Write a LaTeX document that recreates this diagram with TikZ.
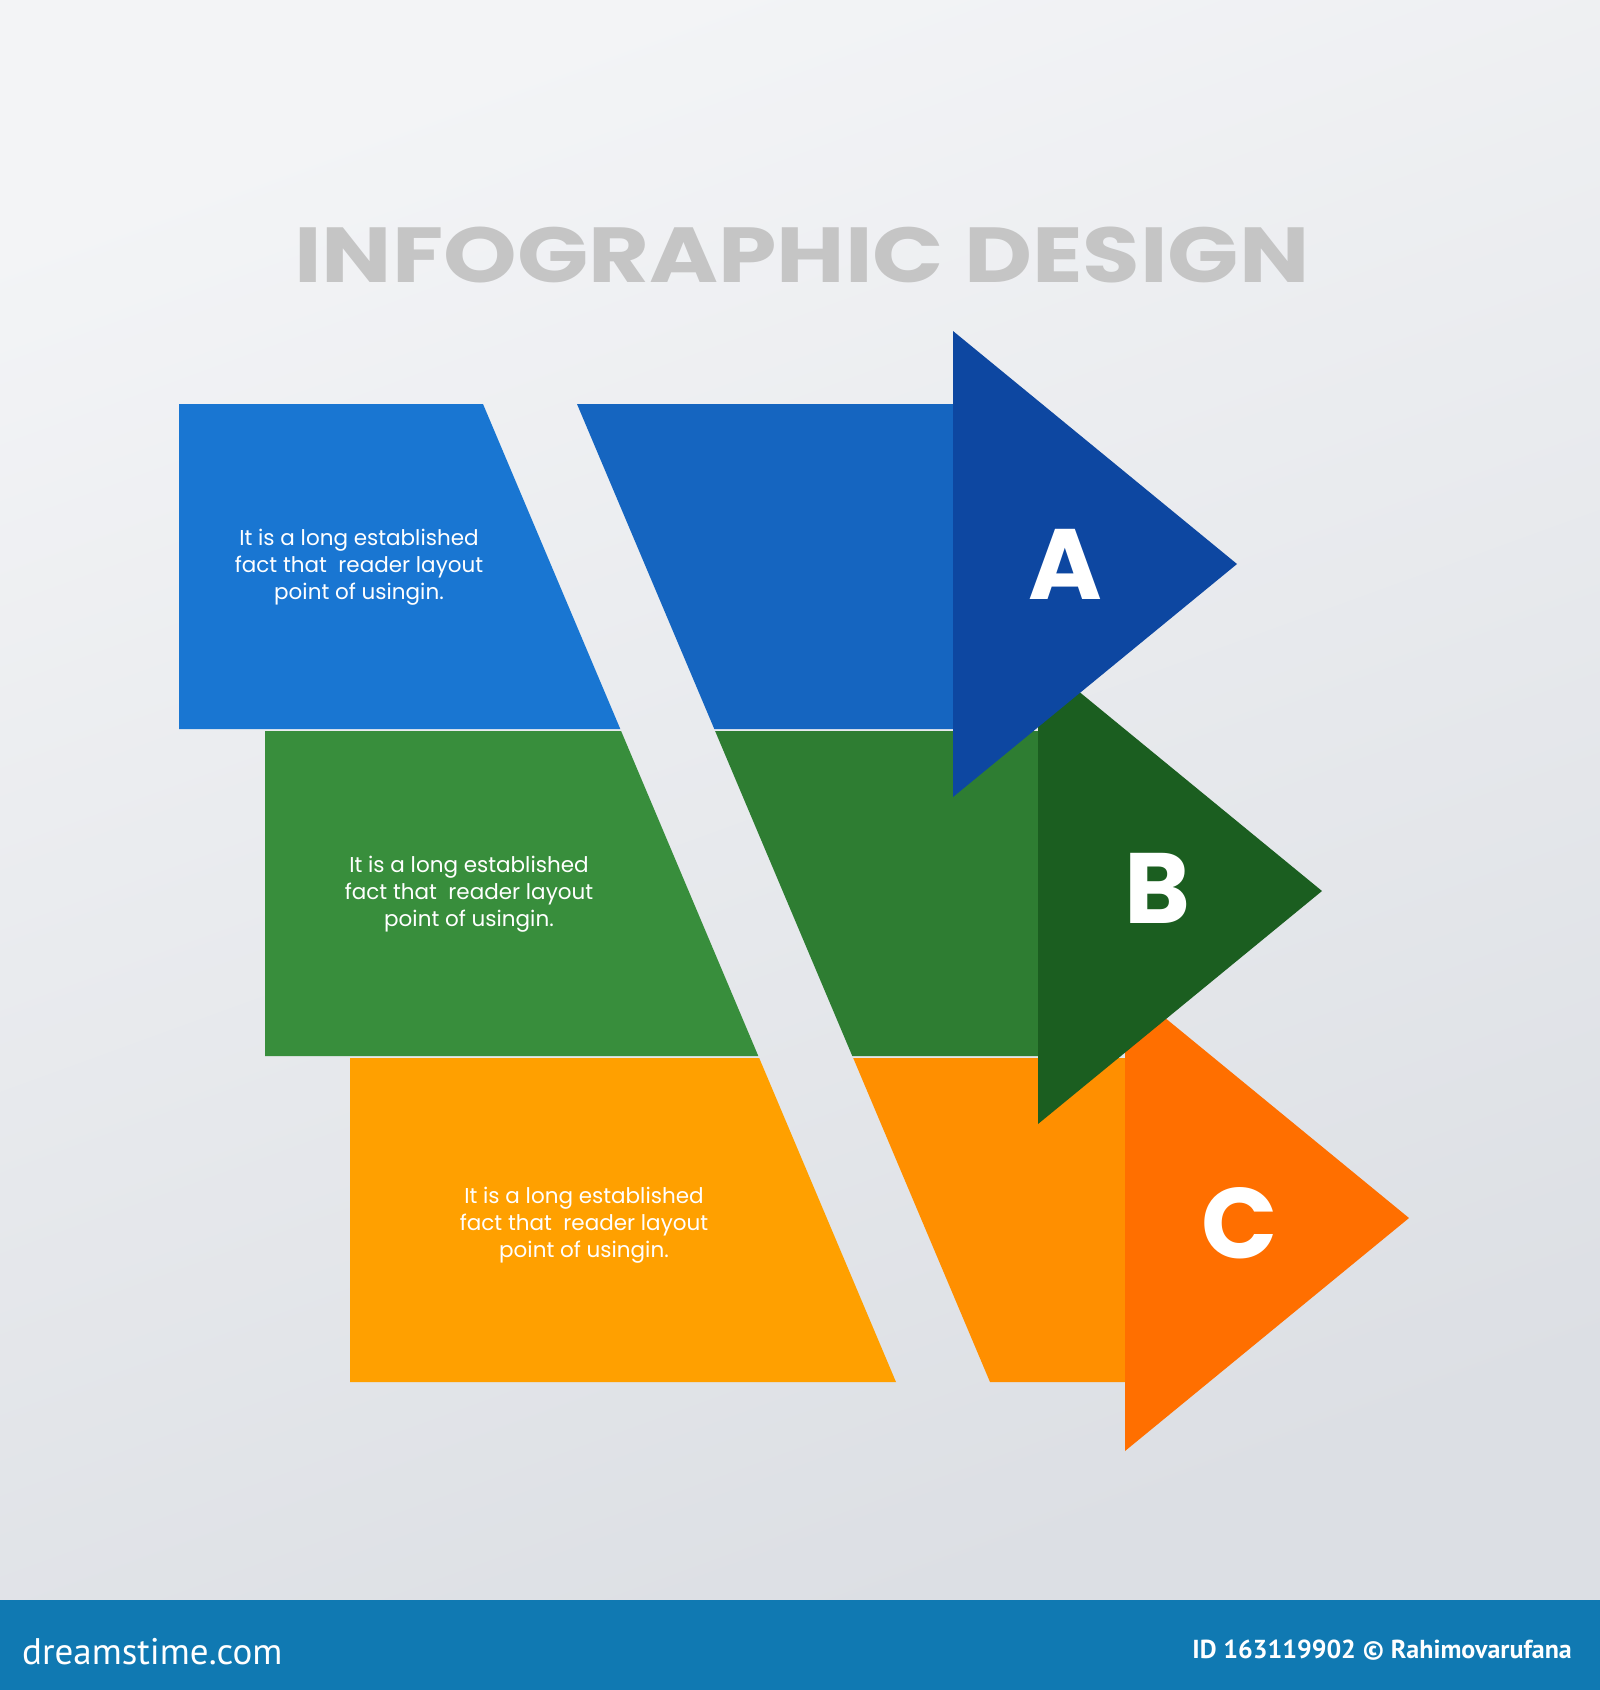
\documentclass[tikz,border=0pt]{standalone}
\usepackage{fontspec}
\setmainfont{Poppins}
\newfontfamily\barfont{PT Sans}
\usetikzlibrary{positioning}
\definecolor{bgTop}{HTML}{F3F4F6}
\definecolor{bgBot}{HTML}{DCDFE4}
\definecolor{titleGray}{HTML}{C5C5C5}
\definecolor{barBlue}{HTML}{1079B2}
\definecolor{blueL}{HTML}{1976D2}
\definecolor{blueR}{HTML}{1565C0}
\definecolor{blueT}{HTML}{0D47A1}
\definecolor{greenL}{HTML}{388E3C}
\definecolor{greenR}{HTML}{2E7D32}
\definecolor{greenT}{HTML}{1B5E20}
\definecolor{orangeL}{HTML}{FFA000}
\definecolor{orangeR}{HTML}{FF8F00}
\definecolor{orangeT}{HTML}{FF6F00}

\begin{document}
\begin{tikzpicture}[x=1pt,y=1pt,yscale=-1,xscale=1,
  blurb/.style={text=white,font=\fontsize{21.5}{27}\selectfont,align=center,inner sep=0.75pt},
  letter/.style={text=white,font=\bfseries\fontsize{100}{100}\selectfont,inner sep=0pt},
  bartext/.style={text=white,inner sep=0pt}]
\useasboundingbox (0,0) rectangle (1600,1690);
\shade [top color=bgTop,bottom color=bgBot,shading angle=20] (0,0) rectangle (1600,1600);
\fill [barBlue] (0,1600) rectangle (1600,1690);
\draw (802,255) node [anchor=center][inner sep=0pt][text=titleGray][xscale=1.2][font=\bfseries\fontsize{78}{78}\selectfont] (title) {INFOGRAPHIC DESIGN};
\fill [blueL] (179,404) -- (483,404) -- (620.3,729) -- (179,729) -- cycle ;
\fill [blueR] (577,404) -- (953,404) -- (953,729) -- (714.3,729) -- cycle ;
\fill [greenL] (265,731) -- (621.1,731) -- (758.3,1056) -- (265,1056) -- cycle ;
\fill [greenR] (715.1,731) -- (1038,731) -- (1038,1056) -- (852.3,1056) -- cycle ;
\fill [orangeL] (350,1058) -- (759.2,1058) -- (896,1382) -- (350,1382) -- cycle ;
\fill [orangeR] (853.2,1058) -- (1125,1058) -- (1125,1382) -- (990,1382) -- cycle ;
\fill [orangeT] (1125,985) -- (1409,1218) -- (1125,1451) -- cycle ;
\fill [greenT] (1038,658) -- (1322,891) -- (1038,1124) -- cycle ;
\fill [blueT] (953,331) -- (1237,564) -- (953,797) -- cycle ;
\draw (359,567) node [blurb] (txtA) {It is a long established\\fact that\ \ reader layout\\point of usingin.};
\draw (469,894) node [blurb] (txtB) {It is a long established\\fact that\ \ reader layout\\point of usingin.};
\draw (584,1225) node [blurb] (txtC) {It is a long established\\fact that\ \ reader layout\\point of usingin.};
\draw (1065,564) node [letter] (letA) {A};
\draw (1157,888) node [letter] (letB) {B};
\draw (1240,1223) node [letter] (letC) {C};
\draw (22,1652) node [anchor=west][bartext][font=\barfont\fontsize{37}{37}\selectfont] (site) {dreamstime.com};
\draw (1572,1650) node [anchor=east][bartext][font=\barfont\bfseries\fontsize{26}{26}\selectfont] (credit) {ID 163119902 © Rahimovarufana};
\end{tikzpicture}
\end{document}
